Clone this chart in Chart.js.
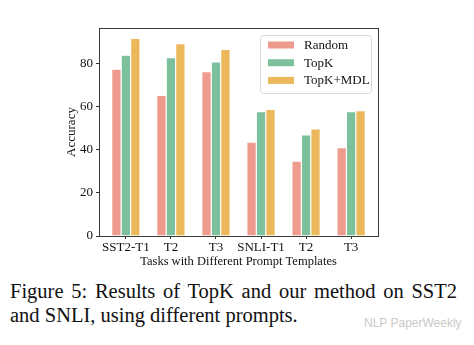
<!DOCTYPE html>
<html>
<head>
<meta charset="utf-8">
<script src="https://cdn.jsdelivr.net/npm/chart.js@4"></script>
<style>
  body { margin: 0; background: #fff; width: 474px; height: 345px; position: relative; overflow: hidden; }
  #chart-box { position: absolute; left: 0; top: 0; width: 474px; height: 270px; }
  #caption {
    position: absolute; left: 10px; top: 279px; width: 447px;
    font-family: "Liberation Serif", "Times New Roman", serif; font-size: 20.5px; line-height: 24px;
    color: #111; text-align: justify; text-align-last: left;
  }
  #mark {
    position: absolute; left: 364px; top: 316px;
    font-family: "Liberation Sans", Arial, sans-serif; font-size: 12px; color: #c9c9c9;
  }
</style>
</head>
<body>
<div id="chart-box"><canvas id="accuracy-chart" width="474" height="270"></canvas></div>
<div id="caption">Figure 5: Results of TopK and our method on SST2 and SNLI, using different prompts.</div>
<div id="mark">NLP PaperWeekly</div>

<script>
const tasks = ["SST2-T1", "T2", "T3", "SNLI-T1", "T2", "T3"];
const randomAcc = [77.5, 65.3, 76.3, 43.6, 34.8, 41.0];
const topkAcc = [84.0, 82.8, 80.9, 57.7, 46.9, 57.7];
const topkMdlAcc = [91.8, 89.3, 86.7, 58.8, 49.7, 58.2];
const yTicks = [0, 20, 40, 60, 80];

const seriesNames = ["Random", "TopK", "TopK+MDL"];
const seriesColors = ["#ee9b8e", "#7cc19c", "#ecb85c"];

const serif = "'Liberation Serif', 'Times New Roman', serif";

function toPoints(values) {
    return values.map((v, i) => ({x: i, y: v}));
}

// box around the plot + legend in the upper right corner
const frameAndLegend = {
    id: 'frameAndLegend',
    afterDraw(chart) {
        const {ctx, chartArea} = chart;
        ctx.save();
        ctx.strokeStyle = '#3a3a3a';
        ctx.lineWidth = 1;
        ctx.strokeRect(Math.round(chartArea.left) + 0.5, Math.round(chartArea.top) + 0.5,
            Math.round(chartArea.right - chartArea.left), Math.round(chartArea.bottom - chartArea.top));

        const boxW = 111, boxH = 58;
        const bx = chartArea.right - 7 - boxW, by = chartArea.top + 7;
        ctx.beginPath();
        ctx.roundRect(bx + 0.5, by + 0.5, boxW, boxH, 3);
        ctx.fillStyle = 'rgba(255,255,255,0.85)';
        ctx.fill();
        ctx.strokeStyle = '#d8d8d8';
        ctx.stroke();

        ctx.font = '13px ' + serif;
        ctx.textBaseline = 'middle';
        chart.data.datasets.forEach((ds, i) => {
            const cy = by + 10 + i * 17.7;
            ctx.fillStyle = ds.backgroundColor;
            ctx.fillRect(bx + 8, cy - 3.5, 26, 7);
            ctx.fillStyle = '#111';
            ctx.fillText(ds.label, bx + 44, cy + 0.5);
        });
        ctx.restore();
    }
};

const chart = new Chart(document.getElementById('accuracy-chart'), {
    type: 'bar',
    data: {
        datasets: [randomAcc, topkAcc, topkMdlAcc].map((vals, i) => ({
            label: seriesNames[i],
            data: toPoints(vals),
            backgroundColor: seriesColors[i],
            borderColor: '#ffffff',
            borderWidth: 0.6,
            categoryPercentage: 0.63,
            barPercentage: 1.0
        }))
    },
    options: {
        responsive: false,
        animation: false,
        layout: { padding: { left: 60, top: 28, right: 96, bottom: 0 } },
        plugins: { legend: { display: false }, tooltip: { enabled: false } },
        scales: {
            x: {
                type: 'linear',
                offset: false,
                min: -0.5965,
                max: 5.5965,
                afterBuildTicks: (scale) => { scale.ticks = tasks.map((_, i) => ({value: i})); },
                afterFit: (scale) => { scale.height = 34; },
                grid: { offset: false, drawOnChartArea: false, drawTicks: true, tickLength: 3, tickColor: '#333' },
                border: { display: true, color: '#3a3a3a' },
                ticks: {
                    callback: (v) => tasks[v],
                    color: '#111', font: { family: serif, size: 13 }, padding: 1, maxRotation: 0, autoSkip: false
                },
                title: {
                    display: true, text: 'Tasks with Different Prompt Templates',
                    color: '#111', font: { family: serif, size: 12.5 }, padding: { top: 0, bottom: 1 }
                }
            },
            y: {
                min: 0,
                max: 96.6,
                afterBuildTicks: (scale) => { scale.ticks = yTicks.map((v) => ({value: v})); },
                afterFit: (scale) => { scale.width = 39; },
                grid: { drawOnChartArea: false, drawTicks: true, tickLength: 3, tickColor: '#333' },
                border: { display: true, color: '#3a3a3a' },
                ticks: { color: '#111', font: { family: serif, size: 13 }, padding: 3 },
                title: {
                    display: true, text: 'Accuracy',
                    color: '#111', font: { family: serif, size: 13 }, padding: { top: 4, bottom: 0 }
                }
            }
        }
    },
    plugins: [frameAndLegend]
});
</script>
</body>
</html>
